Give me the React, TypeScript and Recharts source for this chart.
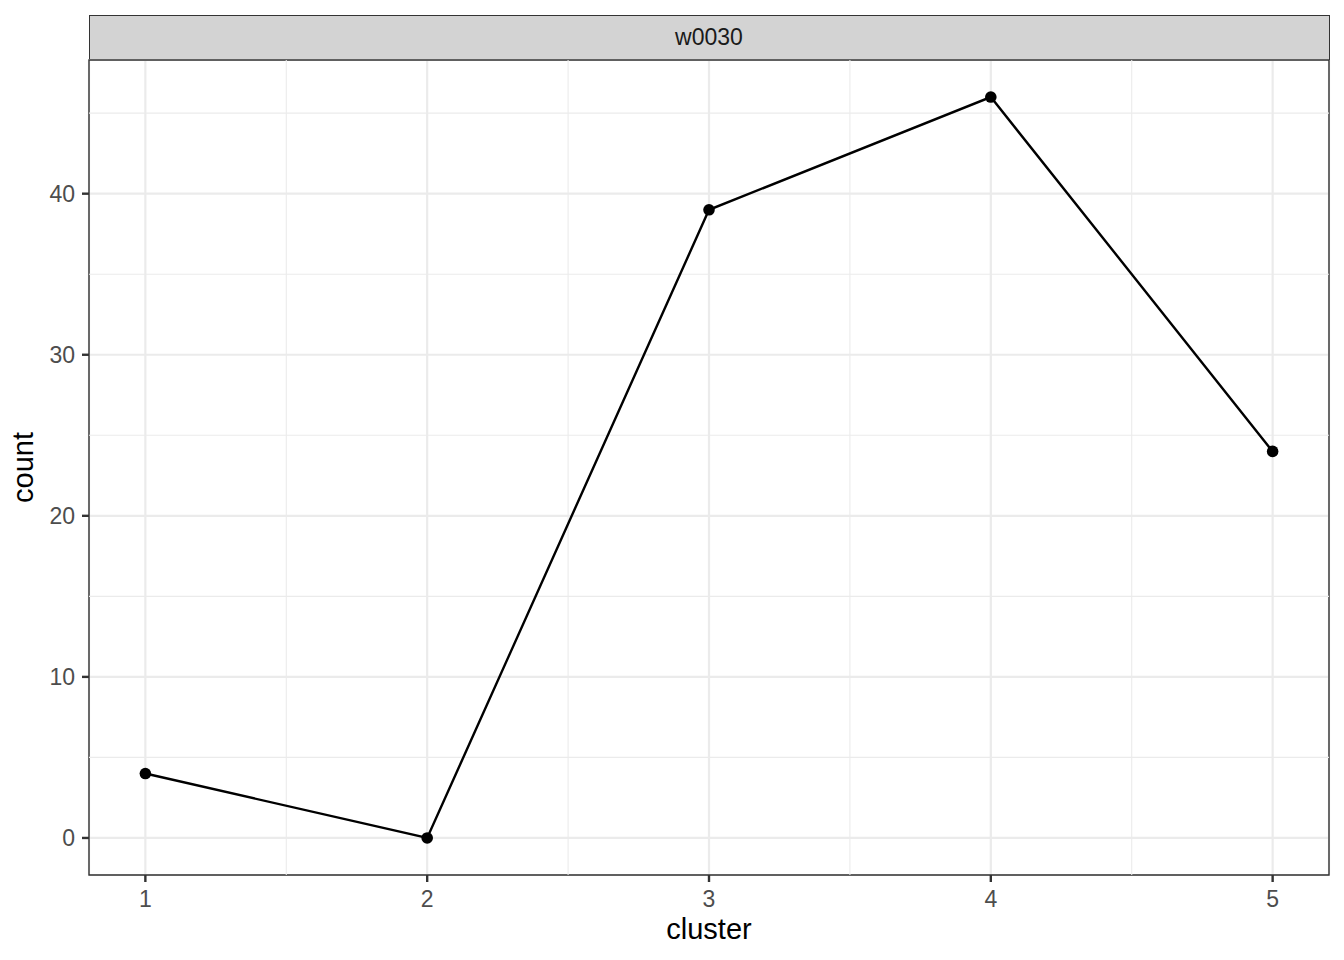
import { LineChart, Line, XAxis, YAxis, CartesianGrid, ReferenceLine, ReferenceArea, Label } from "recharts"

const clusters = [1, 2, 3, 4, 5]
const counts = [4, 0, 39, 46, 24]
const xTicks = [1, 2, 3, 4, 5]
const yTicks = [0, 10, 20, 30, 40]
const xMinor = [1.5, 2.5, 3.5, 4.5]
const yMinor = [5, 15, 25, 35, 45]
const facet = "w0030"

const data = clusters.map((c, i) => ({ cluster: c, count: counts[i] }))

const font = "'Liberation Sans', Arial, Helvetica, sans-serif"

const YTitle = (props: any) => {
  const vb = props.viewBox
  const x = vb.x + 33
  const y = vb.y + vb.height / 2
  return (
    <text x={x} y={y} transform={`rotate(-90 ${x} ${y})`} textAnchor="middle" fontSize={29} fill="#000" fontFamily={font}>
      count
    </text>
  )
}

const XTitle = (props: any) => {
  const vb = props.viewBox
  return (
    <text x={vb.x + vb.width / 2} y={vb.y + 64} textAnchor="middle" fontSize={29} fill="#000" fontFamily={font}>
      cluster
    </text>
  )
}

export default function App() {
  return (
    <div style={{ position: "absolute", left: 0, top: 0, width: 1344, height: 960, background: "#fff", fontFamily: font }}>
      <div
        style={{
          position: "absolute",
          left: 88.5,
          top: 14.5,
          width: 1241,
          height: 46.5,
          boxSizing: "border-box",
          background: "#D3D3D3",
          borderTop: "1.4px solid #333333",
          borderLeft: "1.4px solid #333333",
          borderRight: "1.4px solid #333333",
          borderBottom: "2px solid #333333",
          display: "flex",
          alignItems: "center",
          justifyContent: "center",
          fontSize: 23,
          color: "#1A1A1A",
        }}
      >
        {facet}
      </div>
      <LineChart width={1344} height={960} data={data} margin={{ top: 60, right: 15, bottom: 0, left: 0 }}>
        <CartesianGrid stroke="#EBEBEB" strokeWidth={2.2} />
        {xMinor.map((v) => (
          <ReferenceLine key={"x" + v} x={v} stroke="#EBEBEB" strokeWidth={1.1} />
        ))}
        {yMinor.map((v) => (
          <ReferenceLine key={"y" + v} y={v} stroke="#EBEBEB" strokeWidth={1.1} />
        ))}
        <XAxis
          dataKey="cluster"
          type="number"
          domain={[0.8, 5.2]}
          ticks={xTicks}
          allowDataOverflow
          height={85}
          axisLine={false}
          tickSize={7}
          tickMargin={9}
          tickLine={{ stroke: "#333333", strokeWidth: 2.4 }}
          tick={{ fill: "#4D4D4D", fontSize: 23, fontFamily: font }}
        >
          <Label content={XTitle} />
        </XAxis>
        <YAxis
          type="number"
          domain={[-2.3, 48.3]}
          ticks={yTicks}
          allowDataOverflow
          width={89}
          axisLine={false}
          tickSize={7}
          tickMargin={7}
          tickLine={{ stroke: "#333333", strokeWidth: 2.4 }}
          tick={{ fill: "#4D4D4D", fontSize: 23, fontFamily: font }}
        >
          <Label content={YTitle} />
        </YAxis>
        <ReferenceArea x1={0.8} x2={5.2} y1={-2.3} y2={48.3} fill="none" stroke="#333333" strokeWidth={1.4} />
        <Line
          dataKey="count"
          stroke="#000"
          strokeWidth={2.4}
          dot={{ r: 5.8, fill: "#000", stroke: "#000", strokeWidth: 0 }}
          activeDot={false}
          isAnimationActive={false}
        />
      </LineChart>
    </div>
  )
}
